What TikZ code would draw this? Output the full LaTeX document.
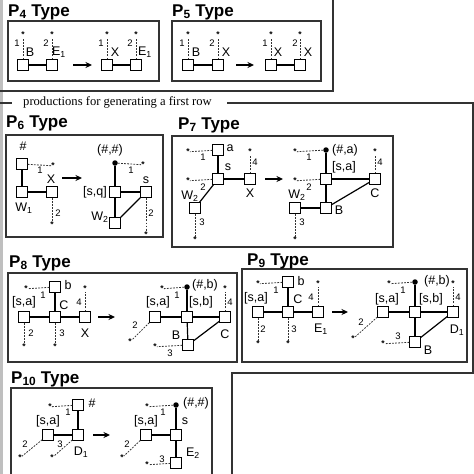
\documentclass[tikz,border=0pt]{standalone}
\usepackage{fontspec}
\setmainfont{Liberation Sans}
\newfontfamily\serifrm{Liberation Serif}
\usetikzlibrary{arrows.meta}
\begin{document}
\begin{tikzpicture}[x=1pt,y=-1pt,
 sq/.style={draw=black,fill=white,line width=0.9pt,minimum size=10.5pt,inner sep=0pt},
 bdot/.style={circle,fill=black,minimum size=5.5pt,inner sep=0pt},
 lbl/.style={font=\fontsize{12.5}{13}\selectfont,inner sep=0pt},
 num/.style={font=\fontsize{9.5}{10}\selectfont,inner sep=0pt},
 ast/.style={font=\fontsize{8.5}{8.5}\selectfont\bfseries,inner sep=0pt,yshift=-1.8pt},
 ttl/.style={font=\fontsize{17}{17}\selectfont\bfseries,anchor=base west,inner sep=0pt},
 ln/.style={line width=1.2pt},
 dl/.style={line width=0.8pt,black!80,dash pattern=on 1.8pt off 1.3pt},
 arr/.style={line width=1.1pt,-{Stealth[length=6.5pt,width=6pt]}},
 panel/.style={draw=black!80,line width=1.2pt},
 frm/.style={draw=black!80,line width=1.4pt}]
\useasboundingbox (0,0) rectangle (474,474);
\fill[black!25] (0,0) rectangle (3,474);
% outer frames
\draw[frm] (0,91) -- (333,91) -- (333,-5);
\draw[frm] (0,103) -- (12,103);
\draw[frm] (227,103) -- (473,103) -- (473,373) -- (232,373) -- (232,480);
\node[anchor=west,inner sep=0pt,font=\serifrm\fontsize{12.6}{13}\selectfont] (ftitle) at (23,102) {productions for generating a first row};
% panels
\draw[panel] (8,21) rectangle (159,81);
\draw[panel] (172,21) rectangle (321,81);
\draw[panel] (6,135) rectangle (163,237);
\draw[panel] (172,136) rectangle (393,247);
\draw[panel] (8,273) rectangle (237,362);
\draw[panel] (242,269) rectangle (467,362);
\draw[panel] (11,388) rectangle (212,480);
% titles
\node[ttl] (t4) at (8,16) {P\textsubscript{4} Type};
\node[ttl] (t5) at (172,16) {P\textsubscript{5} Type};
\node[ttl] (t6) at (6,127) {P\textsubscript{6} Type};
\node[ttl] (t7) at (178,129) {P\textsubscript{7} Type};
\node[ttl] (t8) at (9,267) {P\textsubscript{8} Type};
\node[ttl] (t9) at (247,265) {P\textsubscript{9} Type};
\node[ttl] (t10) at (11,383) {P\textsubscript{10} Type};

% ---------- P4 ----------
\node[sq] (p4a) at (23,65) {}; \node[sq] (p4b) at (52,65) {};
\node[ast] (p4sa) at (23,33) {*}; \node[ast] (p4sb) at (52,33) {*};
\draw[ln] (p4a) -- (p4b);
\draw[dl] (p4a) -- (p4sa); \draw[dl] (p4b) -- (p4sb);
\node[num] (p4n1) at (17,43) {1}; \node[num] (p4n2) at (46,43) {2};
\node[lbl] (p4l1) at (30,52) {B}; \node[lbl] (p4l2) at (59,52) {E\textsubscript{1}};
\coordinate (p4r1) at (73,65); \coordinate (p4r2) at (92,65);
\draw[arr] (p4r1) -- (p4r2);
\node[sq] (p4c) at (107,65) {}; \node[sq] (p4d) at (136,65) {};
\node[ast] (p4sc) at (107,33) {*}; \node[ast] (p4sd) at (136,33) {*};
\draw[ln] (p4c) -- (p4d);
\draw[dl] (p4c) -- (p4sc); \draw[dl] (p4d) -- (p4sd);
\node[num] (p4n3) at (101,43) {1}; \node[num] (p4n4) at (130,43) {2};
\node[lbl] (p4l3) at (115,52) {X}; \node[lbl] (p4l4) at (145,52) {E\textsubscript{1}};

% ---------- P5 ----------
\node[sq] (p5a) at (188,65) {}; \node[sq] (p5b) at (218,65) {};
\node[ast] (p5sa) at (188,33) {*}; \node[ast] (p5sb) at (218,33) {*};
\draw[ln] (p5a) -- (p5b);
\draw[dl] (p5a) -- (p5sa); \draw[dl] (p5b) -- (p5sb);
\node[num] (p5n1) at (182,43) {1}; \node[num] (p5n2) at (212,43) {2};
\node[lbl] (p5l1) at (196,52) {B}; \node[lbl] (p5l2) at (226,52) {X};
\coordinate (p5r1) at (236,65); \coordinate (p5r2) at (254,65);
\draw[arr] (p5r1) -- (p5r2);
\node[sq] (p5c) at (271,65) {}; \node[sq] (p5d) at (300,65) {};
\node[ast] (p5sc) at (271,33) {*}; \node[ast] (p5sd) at (300,33) {*};
\draw[ln] (p5c) -- (p5d);
\draw[dl] (p5c) -- (p5sc); \draw[dl] (p5d) -- (p5sd);
\node[num] (p5n3) at (265,43) {1}; \node[num] (p5n4) at (295,43) {2};
\node[lbl] (p5l3) at (278,52) {X}; \node[lbl] (p5l4) at (308,52) {X};

% ---------- P6 ----------
\node[sq] (p6a) at (22,164) {}; \node[lbl] (p6la) at (23,146) {\#};
\node[sq] (p6b) at (22,192) {}; \node[lbl] (p6lb) at (24,208) {W\textsubscript{1}};
\node[sq] (p6c) at (52,192) {}; \node[lbl] (p6lc) at (51,179) {X};
\node[ast] (p6s1) at (53,164) {*}; \node[num] (p6n1) at (40,170) {1};
\node[ast] (p6s2) at (52,223) {*}; \node[num] (p6n2) at (58,213) {2};
\draw[ln] (p6a) -- (p6b); \draw[ln] (p6b) -- (p6c);
\draw[dl] (p6a) -- (p6s1); \draw[dl] (p6c) -- (p6s2);
\coordinate (p6r1) at (62,178); \coordinate (p6r2) at (82,178);
\draw[arr] (p6r1) -- (p6r2);
\node[bdot] (p6d) at (115,163) {}; \node[lbl] (p6ld) at (110,150) {(\#,\#)};
\node[ast] (p6s3) at (143,163) {*}; \node[num] (p6n3) at (131,170) {1};
\node[sq] (p6e) at (115,192) {}; \node[lbl] (p6le) at (95,192) {[s,q]};
\node[sq] (p6f) at (146,192) {}; \node[lbl] (p6lf) at (146,180) {s};
\node[sq] (p6g) at (115,223) {}; \node[lbl] (p6lg) at (100,217) {W\textsubscript{2}};
\node[ast] (p6s4) at (146,233) {*}; \node[num] (p6n4) at (151,213) {2};
\draw[ln] (p6d) -- (p6e); \draw[ln] (p6e) -- (p6g); \draw[ln] (p6e) -- (p6f); \draw[ln] (p6f) -- (p6g);
\draw[dl] (p6d) -- (p6s3); \draw[dl] (p6f) -- (p6s4);

% ---------- P7 ----------
\node[sq] (p7a) at (218,150) {}; \node[lbl] (p7la) at (230,148) {a};
\node[ast] (p7s1) at (188,150) {*}; \node[num] (p7n1) at (203,157) {1};
\node[sq] (p7b) at (218,179) {}; \node[lbl] (p7lb) at (228,167) {s};
\node[ast] (p7s2) at (188,179) {*}; \node[num] (p7n2) at (203,187) {2};
\node[sq] (p7c) at (250,179) {}; \node[lbl] (p7lc) at (250,193) {X};
\node[ast] (p7s4) at (250,150) {*}; \node[num] (p7n4) at (255,162) {4};
\node[sq] (p7d) at (195,208) {}; \node[lbl] (p7ld) at (190,196) {W\textsubscript{2}};
\node[ast] (p7s3) at (195,238) {*}; \node[num] (p7n3) at (202,222) {3};
\draw[ln] (p7a) -- (p7b); \draw[ln] (p7b) -- (p7c); \draw[ln] (p7b) -- (p7d);
\draw[dl] (p7a) -- (p7s1); \draw[dl] (p7b) -- (p7s2); \draw[dl] (p7c) -- (p7s4); \draw[dl] (p7d) -- (p7s3);
\coordinate (p7r1) at (265,179); \coordinate (p7r2) at (283,179);
\draw[arr] (p7r1) -- (p7r2);
\node[bdot] (p7e) at (326,150) {}; \node[lbl] (p7le) at (345,150) {(\#,a)};
\node[ast] (p7s5) at (295,150) {*}; \node[num] (p7n5) at (309,157) {1};
\node[sq] (p7f) at (326,179) {}; \node[lbl] (p7lf) at (344,167) {[s,a]};
\node[ast] (p7s6) at (295,179) {*}; \node[num] (p7n6) at (309,187) {2};
\node[sq] (p7g) at (375,179) {}; \node[lbl] (p7lg) at (375,193) {C};
\node[ast] (p7s7) at (375,150) {*}; \node[num] (p7n7) at (380,162) {4};
\node[sq] (p7h) at (326,208) {}; \node[lbl] (p7lh) at (339,210) {B};
\node[sq] (p7i) at (295,208) {}; \node[lbl] (p7li) at (297,195) {W\textsubscript{2}};
\node[ast] (p7s8) at (295,238) {*}; \node[num] (p7n8) at (302,222) {3};
\draw[ln] (p7e) -- (p7f); \draw[ln] (p7f) -- (p7h); \draw[ln] (p7f) -- (p7g); \draw[ln] (p7h) -- (p7g); \draw[ln] (p7i) -- (p7h);
\draw[dl] (p7e) -- (p7s5); \draw[dl] (p7f) -- (p7s6); \draw[dl] (p7g) -- (p7s7); \draw[dl] (p7i) -- (p7s8);

% ---------- P8 ----------
\node[sq] (p8a) at (55,287) {}; \node[lbl] (p8la) at (68,285) {b};
\node[ast] (p8s1) at (26,287) {*}; \node[num] (p8n1) at (43,295) {1};
\node[sq] (p8b) at (55,317) {}; \node[lbl] (p8lb) at (64,305) {C};
\node[sq] (p8c) at (24,317) {}; \node[lbl] (p8lc) at (24,302) {[s,a]};
\node[sq] (p8d) at (85,317) {}; \node[lbl] (p8ld) at (85,333) {X};
\node[ast] (p8s2) at (24,345) {*}; \node[num] (p8n2) at (31,333) {2};
\node[ast] (p8s3) at (55,345) {*}; \node[num] (p8n3) at (62,333) {3};
\node[ast] (p8s4) at (85,287) {*}; \node[num] (p8n4) at (79,302) {4};
\draw[ln] (p8a) -- (p8b); \draw[ln] (p8c) -- (p8b); \draw[ln] (p8b) -- (p8d);
\draw[dl] (p8a) -- (p8s1); \draw[dl] (p8c) -- (p8s2); \draw[dl] (p8b) -- (p8s3); \draw[dl] (p8d) -- (p8s4);
\coordinate (p8r1) at (98,317); \coordinate (p8r2) at (115,317);
\draw[arr] (p8r1) -- (p8r2);
\node[bdot] (p8e) at (187,287) {}; \node[lbl] (p8le) at (205,285) {(\#,b)};
\node[ast] (p8s5) at (162,287) {*}; \node[num] (p8n5) at (177,295) {1};
\node[sq] (p8f) at (155,317) {}; \node[lbl] (p8lf) at (158,302) {[s,a]};
\node[sq] (p8g) at (187,317) {}; \node[lbl] (p8lg) at (201,302) {[s,b]};
\node[sq] (p8h) at (225,317) {}; \node[lbl] (p8lh) at (225,334) {C};
\node[ast] (p8s6) at (225,287) {*}; \node[num] (p8n6) at (230,302) {4};
\node[sq] (p8i) at (188,345) {}; \node[lbl] (p8li) at (176,335) {B};
\node[ast] (p8s7) at (155,345) {*}; \node[num] (p8n7) at (170,353) {3};
\node[ast] (p8s8) at (130,340) {*}; \node[num] (p8n8) at (135,325) {2};
\draw[ln] (p8e) -- (p8g); \draw[ln] (p8f) -- (p8g); \draw[ln] (p8g) -- (p8h); \draw[ln] (p8g) -- (p8i); \draw[ln] (p8i) -- (p8h);
\draw[dl] (p8e) -- (p8s5); \draw[dl] (p8h) -- (p8s6); \draw[dl] (p8i) -- (p8s7); \draw[dl] (p8f) -- (p8s8);

% ---------- P9 ----------
\node[sq] (p9a) at (288,282) {}; \node[lbl] (p9la) at (301,281) {b};
\node[ast] (p9s1) at (258,282) {*}; \node[num] (p9n1) at (276,290) {1};
\node[sq] (p9b) at (288,312) {}; \node[lbl] (p9lb) at (298,299) {C};
\node[sq] (p9c) at (258,312) {}; \node[lbl] (p9lc) at (256,298) {[s,a]};
\node[sq] (p9d) at (318,312) {}; \node[lbl] (p9ld) at (321,329) {E\textsubscript{1}};
\node[ast] (p9s4) at (318,282) {*}; \node[num] (p9n4) at (311,297) {4};
\node[ast] (p9s2) at (258,342) {*}; \node[num] (p9n2) at (263,329) {2};
\node[ast] (p9s3) at (288,342) {*}; \node[num] (p9n3) at (294,329) {3};
\draw[ln] (p9a) -- (p9b); \draw[ln] (p9c) -- (p9b); \draw[ln] (p9b) -- (p9d);
\draw[dl] (p9a) -- (p9s1); \draw[dl] (p9d) -- (p9s4); \draw[dl] (p9c) -- (p9s2); \draw[dl] (p9b) -- (p9s3);
\coordinate (p9r1) at (332,312); \coordinate (p9r2) at (348,312);
\draw[arr] (p9r1) -- (p9r2);
\node[bdot] (p9e) at (415,282) {}; \node[lbl] (p9le) at (437,281) {(\#,b)};
\node[ast] (p9s5) at (389,282) {*}; \node[num] (p9n5) at (403,290) {1};
\node[sq] (p9f) at (383,312) {}; \node[lbl] (p9lf) at (387,299) {[s,a]};
\node[sq] (p9g) at (415,312) {}; \node[lbl] (p9lg) at (431,299) {[s,b]};
\node[sq] (p9h) at (453,312) {}; \node[lbl] (p9lh) at (457,330) {D\textsubscript{1}};
\node[ast] (p9s6) at (453,282) {*}; \node[num] (p9n6) at (458,297) {4};
\node[sq] (p9i) at (415,342) {}; \node[lbl] (p9li) at (428,350) {B};
\node[ast] (p9s7) at (383,342) {*}; \node[num] (p9n7) at (398,336) {3};
\node[ast] (p9s8) at (353,337) {*}; \node[num] (p9n8) at (361,322) {2};
\draw[ln] (p9e) -- (p9g); \draw[ln] (p9f) -- (p9g); \draw[ln] (p9g) -- (p9h); \draw[ln] (p9g) -- (p9i); \draw[ln] (p9i) -- (p9h);
\draw[dl] (p9e) -- (p9s5); \draw[dl] (p9h) -- (p9s6); \draw[dl] (p9i) -- (p9s7); \draw[dl] (p9f) -- (p9s8);

% ---------- P10 ----------
\node[sq] (p10a) at (78,405) {}; \node[lbl] (p10la) at (92,403) {\#};
\node[ast] (p10s1) at (50,405) {*}; \node[num] (p10n1) at (68,412) {1};
\node[sq] (p10b) at (78,435) {}; \node[lbl] (p10lb) at (81,452) {D\textsubscript{1}};
\node[sq] (p10c) at (48,435) {}; \node[lbl] (p10lc) at (48,421) {[s,a]};
\node[ast] (p10s2) at (20,456) {*}; \node[num] (p10n2) at (25,444) {2};
\node[ast] (p10s3) at (52,456) {*}; \node[num] (p10n3) at (60,444) {3};
\draw[ln] (p10a) -- (p10b); \draw[ln] (p10c) -- (p10b);
\draw[dl] (p10a) -- (p10s1); \draw[dl] (p10c) -- (p10s2); \draw[dl] (p10b) -- (p10s3);
\coordinate (p10r1) at (93,435); \coordinate (p10r2) at (110,435);
\draw[arr] (p10r1) -- (p10r2);
\node[bdot] (p10d) at (176,405) {}; \node[lbl] (p10ld) at (196,403) {(\#,\#)};
\node[ast] (p10s4) at (147,405) {*}; \node[num] (p10n4) at (163,412) {1};
\node[sq] (p10e) at (146,435) {}; \node[lbl] (p10le) at (146,421) {[s,a]};
\node[sq] (p10f) at (176,435) {}; \node[lbl] (p10lf) at (185,421) {s};
\node[sq] (p10g) at (176,463) {}; \node[lbl] (p10lg) at (193,453) {E\textsubscript{2}};
\node[ast] (p10s5) at (147,463) {*}; \node[num] (p10n5) at (162,459) {3};
\node[ast] (p10s6) at (122,456) {*}; \node[num] (p10n6) at (127,444) {2};
\draw[ln] (p10d) -- (p10f); \draw[ln] (p10e) -- (p10f); \draw[ln] (p10f) -- (p10g);
\draw[dl] (p10d) -- (p10s4); \draw[dl] (p10g) -- (p10s5); \draw[dl] (p10e) -- (p10s6);
\end{tikzpicture}
\end{document}
